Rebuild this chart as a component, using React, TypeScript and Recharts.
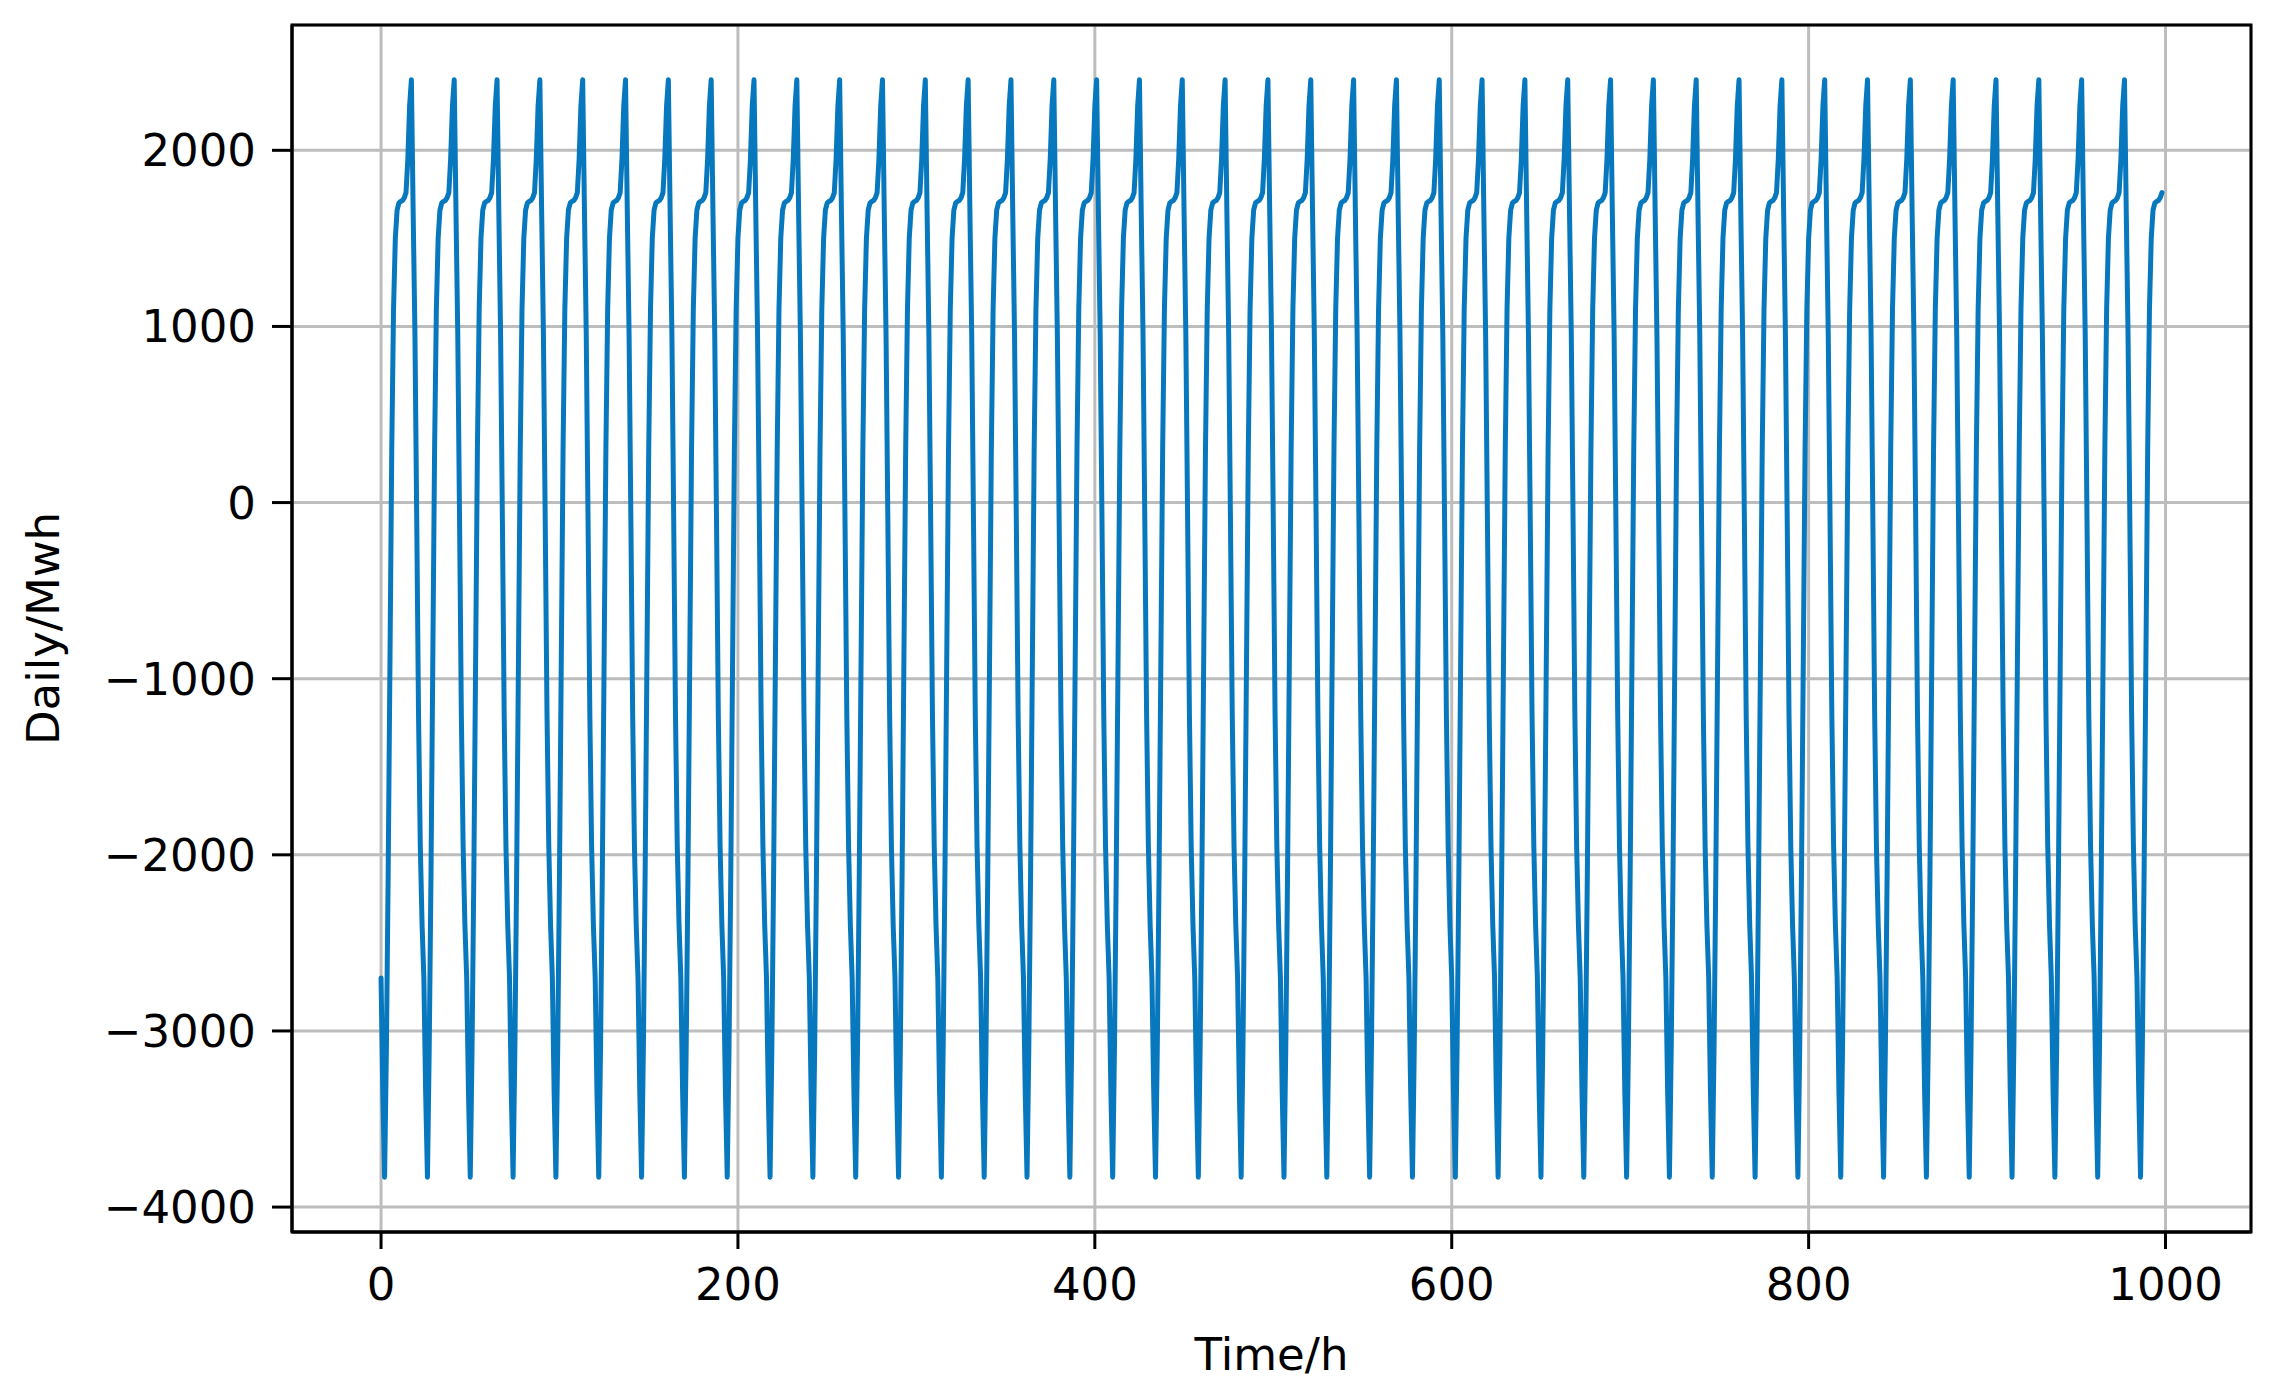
import {
  CartesianGrid,
  Line,
  LineChart,
  ReferenceArea,
  XAxis,
  YAxis,
} from "recharts";

// Hourly net energy over ~1000 h; the curve repeats the same daily shape.
// One day (MWh), hour 0..23.
const dailyProfile = [
  -2700, -3350, -3830, -3100, -2100, -900, 300, 1100, 1500, 1660, 1700, 1710,
  1715, 1730, 1760, 1950, 2250, 2400, 1650, 950, -100, -1200, -1950, -2400,
];
const hourCount = 999; // samples t = 0 .. 998

const xTicks = [0, 200, 400, 600, 800, 1000];
const yTicks = [-4000, -3000, -2000, -1000, 0, 1000, 2000];

const series = Array.from({ length: hourCount }, (_, t) => ({
  t,
  v: dailyProfile[t % dailyProfile.length],
}));

// matplotlib-style 5% margins around the data
const vMin = Math.min(...dailyProfile);
const vMax = Math.max(...dailyProfile);
const xPad = (hourCount - 1) * 0.05;
const yPad = (vMax - vMin) * 0.05;
const xDomain: [number, number] = [-xPad, hourCount - 1 + xPad];
const yDomain: [number, number] = [vMin - yPad, vMax + yPad];

const W = 2274;
const H = 1393;
const FONT = 45;
const INK = "#000";
const BLUE = "#0878be";

const fmtY = (v: number) => (v < 0 ? `\u2212${Math.abs(v)}` : `${v}`);

export default function App() {
  return (
    <div
      style={{
        position: "absolute",
        left: 0,
        top: 0,
        width: W,
        height: H,
        background: "#fff",
        fontFamily: '"DejaVu Sans", sans-serif',
      }}
    >
      <LineChart
        width={W}
        height={H}
        data={series}
        margin={{ top: 25, right: 23, bottom: 0, left: 0 }}
      >
        <CartesianGrid stroke="#bdbdbd" strokeWidth={3} />
        <XAxis
          type="number"
          dataKey="t"
          domain={xDomain}
          ticks={xTicks}
          allowDataOverflow
          height={161}
          tickSize={17}
          tickMargin={19}
          tick={{ fontSize: FONT, fill: INK }}
          axisLine={{ stroke: INK, strokeWidth: 3 }}
          tickLine={{ stroke: INK, strokeWidth: 3 }}
          label={{
            value: "Time/h",
            position: "insideBottom",
            offset: 23,
            fontSize: FONT,
            fill: INK,
          }}
        />
        <YAxis
          type="number"
          domain={yDomain}
          ticks={yTicks}
          allowDataOverflow
          width={292}
          tickSize={20}
          tickMargin={16}
          tickFormatter={fmtY}
          tick={{ fontSize: FONT, fill: INK }}
          axisLine={{ stroke: INK, strokeWidth: 3 }}
          tickLine={{ stroke: INK, strokeWidth: 3 }}
          label={{
            value: "Daily/Mwh",
            angle: -90,
            position: "insideLeft",
            dx: 38,
            fontSize: FONT,
            fill: INK,
            style: { textAnchor: "middle" },
          }}
        />
        <Line
          type="linear"
          dataKey="v"
          stroke={BLUE}
          strokeWidth={5}
          strokeLinejoin="round"
          strokeLinecap="round"
          dot={false}
          isAnimationActive={false}
        />
        <ReferenceArea
          x1={xDomain[0]}
          x2={xDomain[1]}
          y1={yDomain[0]}
          y2={yDomain[1]}
          fill="none"
          stroke={INK}
          strokeWidth={3}
          ifOverflow="visible"
        />
      </LineChart>
    </div>
  );
}
